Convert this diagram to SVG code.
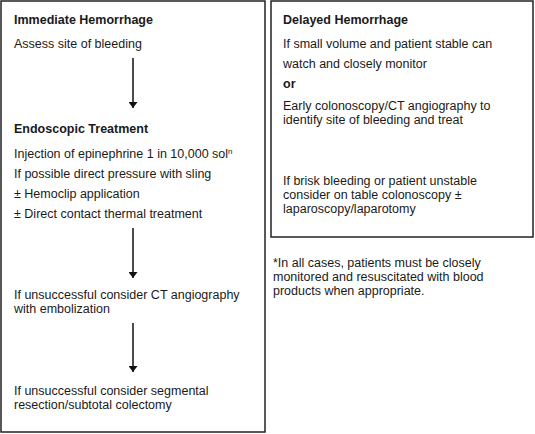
<svg xmlns="http://www.w3.org/2000/svg" width="535" height="434" viewBox="0 0 535 434">
<style>
text{font-family:"Liberation Sans",Arial,sans-serif;font-size:12.5px;fill:#1a1a1a}
.b{font-weight:bold}
.box{fill:#fff;stroke:#222;stroke-width:1.5}
.c{stroke:#111;stroke-width:1.5;fill:none}
</style>
<defs><marker id="ah" viewBox="0 0 8 12" refX="8" refY="6" markerWidth="6" markerHeight="9" markerUnits="userSpaceOnUse" orient="auto"><path d="M0,0 L8,6 L0,12 z" transform="rotate(0)" fill="#111"/></marker></defs>
<rect width="535" height="434" fill="#fff"/>
<g id="immediate">
<rect class="box" x="1" y="1" width="264" height="431"/>
<text class="b" x="14" y="24" font-size="13.5">Immediate Hemorrhage</text>
<text x="14" y="48">Assess site of bleeding</text>
<text class="b" x="14" y="133">Endoscopic Treatment</text>
<text x="14" y="158">Injection of epinephrine 1 in 10,000 sol<tspan font-size="8" dy="-4">n</tspan></text>
<text x="14" y="178">If possible direct pressure with sling</text>
<text x="14" y="198">± Hemoclip application</text>
<text x="14" y="218">± Direct contact thermal treatment</text>
<text x="14" y="299">If unsuccessful consider CT angiography</text>
<text x="14" y="313">with embolization</text>
<text x="14" y="395">If unsuccessful consider segmental</text>
<text x="14" y="409">resection/subtotal colectomy</text>
</g>
<g id="delayed">
<rect class="box" x="271" y="1" width="262" height="236"/>
<text class="b" x="283" y="24">Delayed Hemorrhage</text>
<text x="283" y="48">If small volume and patient stable can</text>
<text x="283" y="68">watch and closely monitor</text>
<text class="b" x="283" y="88">or</text>
<text x="283" y="110">Early colonoscopy/CT angiography to</text>
<text x="283" y="124">identify site of bleeding and treat</text>
<text x="283" y="185">If brisk bleeding or patient unstable</text>
<text x="283" y="199">consider on table colonoscopy ±</text>
<text x="283" y="213">laparoscopy/laparotomy</text>
</g>
<g id="footnote">
<text x="273" y="267">*In all cases, patients must be closely</text>
<text x="273" y="281">monitored and resuscitated with blood</text>
<text x="273" y="295">products when appropriate.</text>
</g>
<g id="connectors">
<line class="c" x1="133" y1="58" x2="133" y2="108" marker-end="url(#ah)"/>
<line class="c" x1="133" y1="228" x2="133" y2="278" marker-end="url(#ah)"/>
<line class="c" x1="133" y1="323" x2="133" y2="372" marker-end="url(#ah)"/>
</g>
</svg>
